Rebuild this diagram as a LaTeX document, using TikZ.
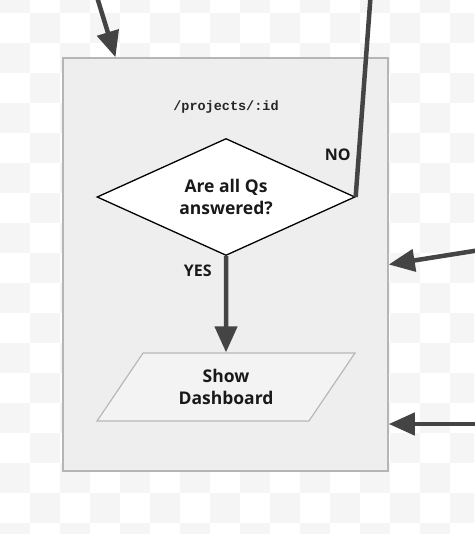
\documentclass[tikz,border=0pt]{standalone}
\usepackage{fontspec}
\setmainfont{Open Sans}
\setmonofont{Liberation Mono}
\usetikzlibrary{shapes.geometric, arrows.meta, positioning, calc}

\definecolor{flowgray}{HTML}{444444}
\definecolor{pagefill}{HTML}{EEEEEE}
\definecolor{pageborder}{HTML}{B5B5B5}
\definecolor{boxfill}{HTML}{F3F3F3}
\definecolor{boxborder}{HTML}{B8B8B8}
\definecolor{checkgray}{HTML}{F5F5F5}

\begin{document}
\begin{tikzpicture}[x=1pt, y=-1pt]
    % Define styles
    \tikzstyle{page} = [rectangle, draw=pageborder, fill=pagefill, line width=1.5pt, minimum width=325pt, minimum height=413pt, inner sep=0pt]
    \tikzstyle{decision} = [diamond, aspect=2.2, draw=black, fill=white, line width=1.3pt, minimum width=258pt, minimum height=117pt, inner sep=0pt, align=center, text=black!90, font=\fontsize{17.5}{21.5}\selectfont\bfseries]
    \tikzstyle{screen} = [trapezium, trapezium left angle=53, trapezium right angle=127, trapezium stretches, draw=boxborder, fill=boxfill, line width=1.2pt, minimum width=258pt, minimum height=68pt, inner sep=0pt, align=center, text=black!90, font=\fontsize{17.5}{21.5}\selectfont\bfseries]
    \tikzstyle{arrow} = [-{Triangle[length=26pt, width=22pt]}, line width=4.5pt, draw=flowgray]
    \tikzstyle{flowline} = [line width=4.5pt, draw=flowgray]
    \tikzstyle{answer} = [text=black!90, font=\fontsize{16}{18}\selectfont\bfseries, inner sep=2pt]

    % Background
    \useasboundingbox (0,0) rectangle (474,534);
    \begin{scope}
        \clip (0,0) rectangle (474,534);
        \foreach \i in {0,...,15}
            \foreach \j in {-1,...,17} {
                \pgfmathtruncatemacro\odd{mod(\i+\j+100,2)}
                \ifnum\odd=1 \fill[checkgray] (30*\i, 13+30*\j) rectangle ++(30,30); \fi
            }
    \end{scope}

    % Page and flow
    \node[page] (frame) at (225.5,264.5) {};
    \node[font=\ttfamily\bfseries\fontsize{13.5}{15}\selectfont, text=black!85] (route) at (226,107) {/projects/:id};
    \node[decision] (ask) at (226,197) {Are all Qs\\answered?};
    \node[screen] (dash) at (226,387) {Show\\Dashboard};

    % Loose ends
    \coordinate (topin) at (97,-3);
    \coordinate (noout) at (370.5,-3);
    \coordinate (rightin) at (477,250.5);
    \coordinate (bottomin) at (477,424);

    % Connectors
    \draw[arrow] (topin) -- ($(frame.north west)!0.163!(frame.north east)$);
    \draw[flowline] (ask.east) -- node[answer, pos=0.21, left=4pt] {NO} (noout);
    \draw[arrow] (ask.south) -- node[answer, pos=0.15, left=10pt] {YES} (dash.north);
    \draw[arrow] (rightin) -- (frame.east);
    \draw[arrow] (bottomin) -- (frame.east |- bottomin);
\end{tikzpicture}
\end{document}
